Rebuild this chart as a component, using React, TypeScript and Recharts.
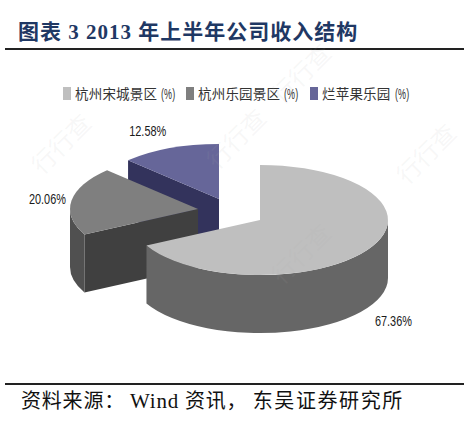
import React from 'react';
import { PieChart, Pie, Cell } from 'recharts';

const names = ['烂苹果乐园', '杭州乐园景区', '杭州宋城景区'];
const values = [12.58, 20.06, 67.36];

const topColors = ['#666699', '#7f7f7f', '#bfbfbf'];
const wallColors = ['#33335c', '#505050', '#666666'];
const cutColors = ['#33335c', '#404040', '#666666'];
// how far each slice is pulled out of the pie, px
const explode = [[-41, -21], [-62, -11], [0, 0]];
const labelShift = [[-22, -17], [-24, -1], [24, 15]];
const legendLeft = [310, 186, 63];
// faint stamp marks on the page
const stamps = [[425, 150], [300, 250], [235, 135], [300, 70], [60, 140]];

const SQUASH = 0.43;
const DEPTH = 58;
const RAD = Math.PI / 180;

const data = names.map((name, i) => ({ name, value: values[i] }));

const Slice3D = (props: any) => {
  const { cx, cy, outerRadius: r, startAngle, endAngle, index } = props;
  const x0 = cx + explode[index][0];
  const y0 = cy + explode[index][1];
  const ry = r * SQUASH;
  const pt = (a: number, d = 0) => `${x0 + r * Math.cos(a * RAD)} ${y0 - ry * Math.sin(a * RAD) + d}`;
  const large = endAngle - startAngle > 180 ? 1 : 0;
  const top = `M${x0} ${y0} L${pt(startAngle)} A${r} ${ry} 0 ${large} 0 ${pt(endAngle)} Z`;
  // outer wall only shows on the front half of the ellipse
  const a0 = Math.max(startAngle, 180);
  const a1 = Math.min(endAngle, 360);
  const wall = a1 > a0
    ? `M${pt(a0)} A${r} ${ry} 0 0 0 ${pt(a1)} L${pt(a1, DEPTH)} A${r} ${ry} 0 0 1 ${pt(a0, DEPTH)} Z`
    : null;
  const cut = index === 2
    ? null
    : `M${x0} ${y0} L${pt(endAngle)} L${pt(endAngle, DEPTH)} L${x0} ${y0 + DEPTH} Z`;
  return (
    <g>
      {cut && <path d={cut} fill={cutColors[index]} />}
      {wall && <path d={wall} fill={wallColors[index]} />}
      <path d={top} fill={topColors[index]} />
    </g>
  );
};

const renderLabel = (props: any) => {
  const { cx, cy, outerRadius: r, midAngle, index, value } = props;
  const x = cx + explode[index][0] + r * Math.cos(midAngle * RAD) + labelShift[index][0];
  const extra = index === 2 ? DEPTH : 0;
  const y = cy + explode[index][1] - r * SQUASH * Math.sin(midAngle * RAD) + labelShift[index][1] + extra;
  return (
    <g transform={`translate(${x} ${y}) scale(0.78 1)`}>
      <text x={0} y={0} textAnchor="middle" dominantBaseline="central" fill="#1a1a1a"
        style={{ fontFamily: '"Liberation Sans", sans-serif', fontSize: 14 }}>
        {`${value.toFixed(2)}%`}
      </text>
    </g>
  );
};

const rule: React.CSSProperties = { position: 'absolute', left: 5, width: 459, height: 2, background: '#222' };

export default function App() {
  return (
    <div style={{ position: 'absolute', left: 0, top: 0, width: 474, height: 423, background: '#fff', overflow: 'hidden' }}>
      <div style={{ position: 'absolute', left: 18, top: 15, color: '#1f3864', fontSize: 21, letterSpacing: 1, fontWeight: 700, whiteSpace: 'nowrap', fontFamily: '"Liberation Serif", "Noto Sans CJK SC"' }}>
        图表 3 2013 年上半年公司收入结构
      </div>
      <div style={{ ...rule, top: 48 }} />
      {names.map((name, i) => (
        <div key={name} style={{ position: 'absolute', left: legendLeft[i], top: 83, height: 20, display: 'flex', alignItems: 'center', whiteSpace: 'nowrap' }}>
          <span style={{ width: 8, height: 13, background: topColors[i], marginRight: 4 }} />
          <span style={{ fontFamily: '"Noto Sans CJK SC"', fontSize: 13.5, color: '#333', letterSpacing: 0.2 }}>
            {name}
            <span style={{ display: 'inline-block', marginLeft: 4, transform: 'scaleX(0.6)', transformOrigin: 'left', fontSize: 15, width: 15, fontFamily: '"Liberation Sans"' }}>(%)</span>
          </span>
        </div>
      ))}
      <PieChart width={474} height={423} margin={{ top: 0, right: 0, bottom: 0, left: 0 }} style={{ position: 'absolute', left: 0, top: 0 }}>
        <Pie
          data={data}
          dataKey="value"
          nameKey="name"
          cx={260}
          cy={220}
          outerRadius={128}
          startAngle={90}
          endAngle={450}
          stroke="none"
          shape={Slice3D}
          label={renderLabel}
          labelLine={false}
          isAnimationActive={false}
        >
          {data.map((d, i) => <Cell key={d.name} fill={topColors[i]} />)}
        </Pie>
      </PieChart>
      {stamps.map(([x, y]) => (
        <div key={x} style={{ position: 'absolute', left: x - 40, top: y - 15, width: 80, textAlign: 'center', fontSize: 24, color: 'rgba(170,170,170,0.1)', transform: 'rotate(-45deg)', fontFamily: '"Noto Sans CJK SC"', pointerEvents: 'none' }}>
          行行查
        </div>
      ))}
      <div style={{ ...rule, top: 383 }} />
      <div style={{ position: 'absolute', left: 21, top: 385, color: '#111', fontSize: 20, whiteSpace: 'nowrap', letterSpacing: 0.8, fontFamily: '"Noto Sans CJK SC"' }}>
        {'资料来源\uFF1A'}
        <span style={{ fontFamily: '"Liberation Serif"', fontSize: 21, marginLeft: 5, marginRight: 6 }}>Wind</span>
        {'资讯\uFF0C '}
        <span style={{ letterSpacing: 1.6 }}>东吴证券研究所</span>
      </div>
    </div>
  );
}
